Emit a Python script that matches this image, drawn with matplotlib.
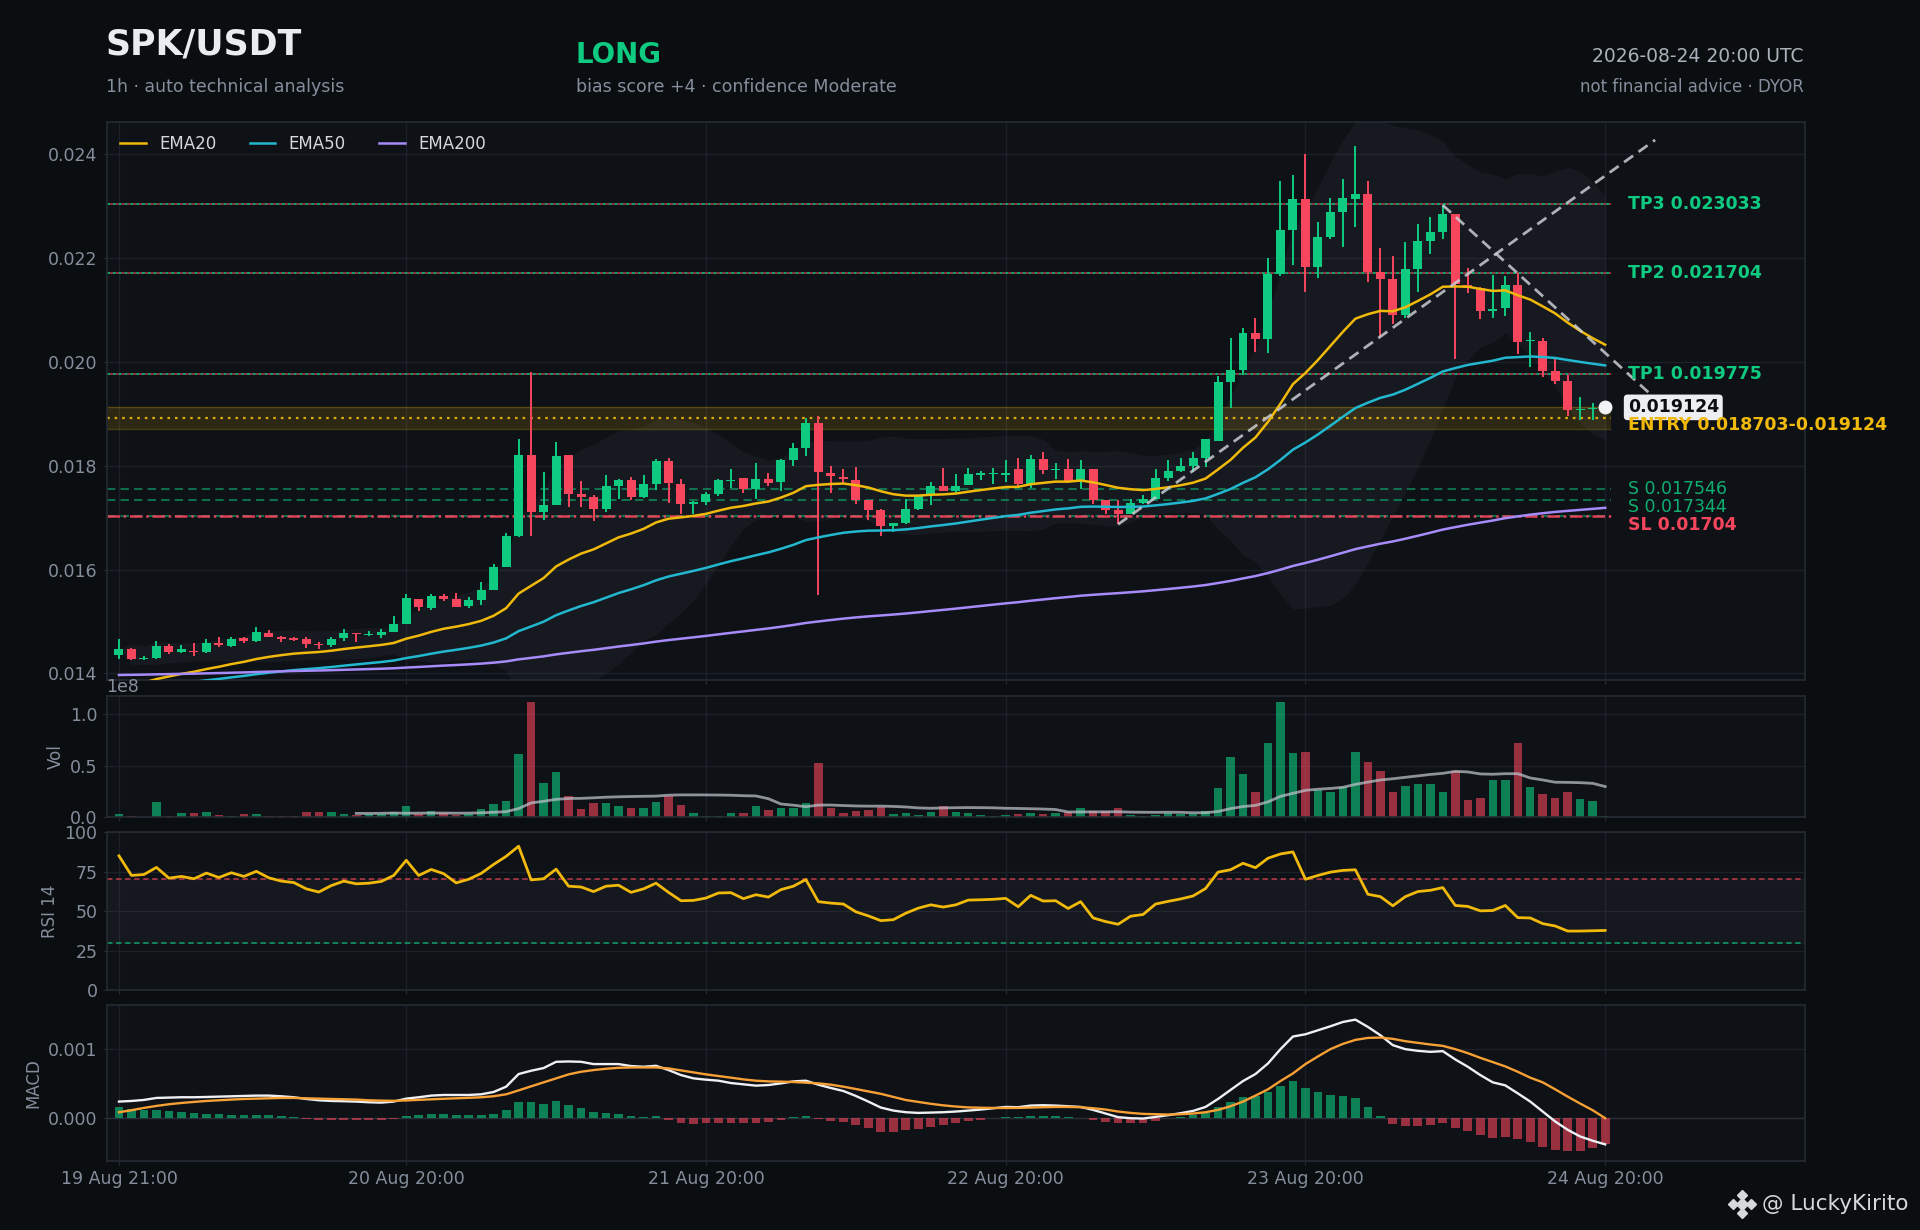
import numpy as np
import pandas as pd
import matplotlib
matplotlib.use("Agg")
import matplotlib.pyplot as plt
from matplotlib.lines import Line2D

# ---------------- data ----------------
symbol = "SPK/USDT"
timeframe_note = "1h · auto technical analysis"
bias_text = "LONG"
bias_note = "bias score +4 · confidence Moderate"
stamp = "2026-08-24 20:00 UTC"
disclaimer = "not financial advice · DYOR"
watermark = "@ LuckyKirito"

opens = [
    0.014353, 0.014469, 0.014270, 0.014300, 0.014527, 0.014417, 0.014437, 0.014417, 0.014590, 0.014527,
    0.014674, 0.014623, 0.014784, 0.014706, 0.014668, 0.014668, 0.014565, 0.014546, 0.014674, 0.014770,
    0.014739, 0.014739, 0.014803, 0.014957, 0.015439, 0.015260, 0.015490, 0.015426, 0.015298, 0.015413,
    0.015606, 0.016055, 0.016646, 0.018207, 0.017115, 0.017243, 0.018200, 0.017448, 0.017396, 0.017159,
    0.017608, 0.017717, 0.017390, 0.017640, 0.018083, 0.017653, 0.017255, 0.017300, 0.017448, 0.017700,
    0.017756, 0.017550, 0.017737, 0.017685, 0.018103, 0.018347, 0.018816, 0.017865, 0.017780, 0.017730,
    0.017332, 0.017139, 0.016837, 0.016902, 0.017172, 0.017428, 0.017615, 0.017512, 0.017622, 0.017830,
    0.017839, 0.017830, 0.017930, 0.017640, 0.018122, 0.017910, 0.017929, 0.017680, 0.017929, 0.017332,
    0.017139, 0.017062, 0.017287, 0.017364, 0.017762, 0.017891, 0.018000, 0.018141, 0.018481, 0.019603,
    0.019853, 0.020564, 0.020436, 0.021692, 0.022545, 0.023135, 0.021833, 0.022404, 0.022891, 0.023147,
    0.023237, 0.021737, 0.021590, 0.020904, 0.021782, 0.022333, 0.022506, 0.022846, 0.021481, 0.021417,
    0.020990, 0.021032, 0.021481, 0.020400, 0.020410, 0.019827, 0.019635, 0.019077, 0.019090, 0.019124]
highs = [
    0.014655, 0.014495, 0.014334, 0.014623, 0.014565, 0.014539, 0.014578, 0.014655, 0.014693, 0.014693,
    0.014706, 0.014893, 0.014835, 0.014726, 0.014700, 0.014700, 0.014610, 0.014694, 0.014854, 0.014777,
    0.014816, 0.014848, 0.015105, 0.015529, 0.015439, 0.015529, 0.015529, 0.015541, 0.015465, 0.015760,
    0.016107, 0.016697, 0.018509, 0.019805, 0.017879, 0.018457, 0.018200, 0.017698, 0.017428, 0.017814,
    0.017737, 0.017782, 0.017814, 0.018135, 0.018154, 0.017750, 0.017320, 0.017493, 0.017750, 0.017929,
    0.017769, 0.018045, 0.017865, 0.018122, 0.018443, 0.018925, 0.018963, 0.017987, 0.017929, 0.017968,
    0.017332, 0.017159, 0.016902, 0.017364, 0.017428, 0.017679, 0.017949, 0.017833, 0.017961, 0.017890,
    0.017949, 0.018103, 0.018141, 0.018199, 0.018257, 0.018058, 0.018122, 0.018103, 0.017942, 0.017332,
    0.017345, 0.017364, 0.017428, 0.017929, 0.018103, 0.018154, 0.018257, 0.018507, 0.019731, 0.020455,
    0.020660, 0.020853, 0.022006, 0.023481, 0.023596, 0.024000, 0.022699, 0.023160, 0.023526, 0.024160,
    0.023481, 0.022186, 0.022045, 0.022314, 0.022654, 0.022795, 0.023019, 0.022846, 0.021801, 0.021449,
    0.021673, 0.021660, 0.021705, 0.020584, 0.020455, 0.020071, 0.019750, 0.019327, 0.019205, 0.019124]
lows = [
    0.014276, 0.014257, 0.014260, 0.014283, 0.014373, 0.014385, 0.014334, 0.014400, 0.014507, 0.014507,
    0.014584, 0.014597, 0.014706, 0.014610, 0.014630, 0.014495, 0.014462, 0.014514, 0.014630, 0.014610,
    0.014720, 0.014687, 0.014803, 0.014957, 0.015208, 0.015220, 0.015400, 0.015285, 0.015266, 0.015324,
    0.015606, 0.016055, 0.016633, 0.016653, 0.016954, 0.017243, 0.017204, 0.017204, 0.016927, 0.017107,
    0.017351, 0.017345, 0.017377, 0.017525, 0.017281, 0.017075, 0.017062, 0.017236, 0.017410, 0.017576,
    0.017473, 0.017358, 0.017602, 0.017510, 0.017987, 0.018180, 0.015502, 0.017473, 0.017653, 0.017255,
    0.016947, 0.016638, 0.016722, 0.016869, 0.017139, 0.017236, 0.017512, 0.017460, 0.017622, 0.017717,
    0.017640, 0.017679, 0.017590, 0.017570, 0.017846, 0.017750, 0.017666, 0.017550, 0.017255, 0.017075,
    0.016870, 0.017062, 0.017268, 0.017364, 0.017705, 0.017878, 0.017878, 0.017974, 0.018481, 0.019109,
    0.019744, 0.020199, 0.020167, 0.021660, 0.021866, 0.021340, 0.021622, 0.022359, 0.022205, 0.022603,
    0.021545, 0.020487, 0.020724, 0.020840, 0.021340, 0.022070, 0.022359, 0.020064, 0.021321, 0.020821,
    0.020840, 0.020891, 0.020148, 0.019911, 0.019718, 0.019571, 0.018949, 0.018885, 0.018885, 0.019124]
closes = [
    0.014469, 0.014270, 0.014300, 0.014527, 0.014417, 0.014462, 0.014417, 0.014578, 0.014546, 0.014668,
    0.014630, 0.014796, 0.014706, 0.014668, 0.014649, 0.014565, 0.014546, 0.014668, 0.014777, 0.014760,
    0.014758, 0.014796, 0.014944, 0.015452, 0.015285, 0.015484, 0.015432, 0.015285, 0.015413, 0.015606,
    0.016042, 0.016646, 0.018207, 0.017115, 0.017243, 0.018188, 0.017448, 0.017396, 0.017159, 0.017602,
    0.017717, 0.017390, 0.017640, 0.018083, 0.017666, 0.017255, 0.017300, 0.017448, 0.017717, 0.017720,
    0.017550, 0.017737, 0.017666, 0.018103, 0.018347, 0.018816, 0.017878, 0.017800, 0.017743, 0.017332,
    0.017139, 0.016837, 0.016902, 0.017159, 0.017428, 0.017602, 0.017512, 0.017615, 0.017833, 0.017839,
    0.017850, 0.017846, 0.017640, 0.018122, 0.017910, 0.017929, 0.017679, 0.017929, 0.017345, 0.017139,
    0.017062, 0.017287, 0.017364, 0.017762, 0.017891, 0.017994, 0.018141, 0.018507, 0.019603, 0.019853,
    0.020564, 0.020436, 0.021692, 0.022545, 0.023135, 0.021833, 0.022404, 0.022891, 0.023160, 0.023237,
    0.021737, 0.021590, 0.020904, 0.021782, 0.022333, 0.022506, 0.022846, 0.021494, 0.021417, 0.020987,
    0.021010, 0.021481, 0.020391, 0.020410, 0.019827, 0.019635, 0.019077, 0.019090, 0.019120, 0.019124]
volumes_m = [
    3.3, 1.0, 0.3, 15.0, 1.3, 4.2, 4.2, 5.2, 2.3, 1.3,
    3.3, 3.3, 1.3, 1.3, 1.3, 5.2, 5.2, 5.2, 3.3, 2.3,
    3.3, 3.3, 5.2, 11.1, 3.3, 6.2, 4.2, 2.3, 3.3, 8.2,
    13.1, 16.0, 61.1, 112.1, 32.7, 43.5, 20.9, 8.2, 14.1, 14.1,
    11.1, 9.2, 9.2, 15.0, 20.9, 12.1, 4.2, 1.3, 1.3, 4.2,
    4.2, 11.1, 7.2, 9.2, 9.2, 14.1, 52.3, 9.2, 4.2, 6.2,
    7.2, 10.1, 3.3, 4.2, 2.3, 5.2, 11.1, 5.2, 4.2, 2.3,
    1.3, 2.3, 3.3, 4.2, 3.3, 4.2, 5.2, 9.2, 6.2, 6.2,
    9.2, 2.3, 1.3, 2.3, 4.2, 3.3, 3.3, 6.2, 27.8, 58.2,
    41.5, 24.8, 71.9, 112.1, 62.1, 63.1, 26.8, 23.9, 28.8, 63.1,
    53.3, 44.4, 24.8, 30.7, 31.7, 31.7, 24.8, 44.4, 17.0, 19.0,
    35.6, 35.6, 71.9, 28.8, 22.9, 19.0, 23.9, 18.0, 16.0, 0.5]
rsi14 = [
    84.9, 72.5, 73.1, 77.6, 70.8, 71.9, 70.4, 74.0, 71.2, 74.2,
    71.9, 75.1, 71.0, 68.9, 68.0, 64.0, 62.0, 66.1, 68.9, 67.2,
    67.6, 68.7, 72.5, 82.1, 72.5, 76.3, 73.6, 67.8, 70.1, 73.8,
    79.5, 84.6, 91.0, 69.7, 70.4, 76.5, 65.7, 65.2, 62.3, 65.7,
    66.3, 61.8, 64.0, 67.6, 61.8, 56.5, 56.7, 58.2, 61.4, 61.6,
    57.8, 60.3, 58.8, 63.5, 65.7, 69.9, 55.9, 55.0, 54.4, 49.5,
    46.9, 43.9, 44.5, 48.6, 51.8, 53.9, 52.5, 53.9, 56.9, 57.1,
    57.4, 58.0, 52.7, 59.9, 56.3, 56.5, 51.6, 55.9, 45.6, 43.3,
    41.6, 46.7, 47.8, 54.4, 56.1, 57.6, 59.5, 64.2, 74.6, 76.1,
    80.2, 77.4, 83.4, 86.1, 87.4, 70.1, 72.5, 74.6, 75.7, 76.1,
    60.6, 59.1, 53.3, 59.1, 62.3, 63.1, 64.8, 53.5, 52.9, 50.1,
    50.3, 53.5, 45.8, 45.6, 42.0, 40.5, 37.3, 37.3, 37.5, 37.7]
macd_line = [
    0.000237, 0.000246, 0.000261, 0.000290, 0.000295, 0.000300, 0.000300, 0.000304, 0.000309, 0.000314,
    0.000319, 0.000324, 0.000324, 0.000314, 0.000300, 0.000275, 0.000256, 0.000246, 0.000242, 0.000237,
    0.000227, 0.000222, 0.000237, 0.000280, 0.000300, 0.000324, 0.000333, 0.000333, 0.000333, 0.000343,
    0.000377, 0.000454, 0.000638, 0.000686, 0.000725, 0.000816, 0.000821, 0.000816, 0.000783, 0.000783,
    0.000783, 0.000754, 0.000744, 0.000758, 0.000696, 0.000623, 0.000575, 0.000556, 0.000541, 0.000507,
    0.000488, 0.000469, 0.000478, 0.000502, 0.000531, 0.000541, 0.000483, 0.000435, 0.000391, 0.000319,
    0.000237, 0.000150, 0.000106, 0.000082, 0.000072, 0.000077, 0.000082, 0.000092, 0.000106, 0.000121,
    0.000140, 0.000159, 0.000155, 0.000179, 0.000184, 0.000179, 0.000169, 0.000159, 0.000116, 0.000063,
    0.000010, -0.000005, -0.000010, 0.000014, 0.000039, 0.000068, 0.000101, 0.000159, 0.000275, 0.000406,
    0.000536, 0.000638, 0.000792, 0.001000, 0.001184, 0.001217, 0.001275, 0.001333, 0.001396, 0.001430,
    0.001324, 0.001203, 0.001058, 0.001000, 0.000976, 0.000961, 0.000971, 0.000850, 0.000744, 0.000623,
    0.000517, 0.000473, 0.000357, 0.000237, 0.000092, -0.000053, -0.000174, -0.000271, -0.000333, -0.000386]
macd_signal = [
    0.000082, 0.000111, 0.000145, 0.000174, 0.000198, 0.000217, 0.000232, 0.000246, 0.000256, 0.000266,
    0.000275, 0.000280, 0.000285, 0.000290, 0.000290, 0.000285, 0.000280, 0.000275, 0.000271, 0.000266,
    0.000256, 0.000251, 0.000248, 0.000254, 0.000262, 0.000270, 0.000278, 0.000285, 0.000292, 0.000300,
    0.000315, 0.000343, 0.000400, 0.000459, 0.000517, 0.000575, 0.000633, 0.000671, 0.000696, 0.000715,
    0.000729, 0.000734, 0.000734, 0.000734, 0.000720, 0.000691, 0.000662, 0.000633, 0.000609, 0.000585,
    0.000560, 0.000541, 0.000531, 0.000527, 0.000522, 0.000512, 0.000502, 0.000483, 0.000454, 0.000420,
    0.000385, 0.000350, 0.000305, 0.000260, 0.000232, 0.000205, 0.000182, 0.000165, 0.000152, 0.000147,
    0.000144, 0.000144, 0.000145, 0.000150, 0.000155, 0.000159, 0.000159, 0.000155, 0.000140, 0.000121,
    0.000092, 0.000072, 0.000058, 0.000053, 0.000048, 0.000053, 0.000063, 0.000082, 0.000116, 0.000169,
    0.000237, 0.000324, 0.000415, 0.000536, 0.000647, 0.000783, 0.000894, 0.001000, 0.001077, 0.001135,
    0.001164, 0.001169, 0.001150, 0.001116, 0.001092, 0.001068, 0.001048, 0.001000, 0.000942, 0.000874,
    0.000812, 0.000749, 0.000671, 0.000585, 0.000517, 0.000415, 0.000309, 0.000208, 0.000111, -0.000005]

tick_pos = [0, 23, 47, 71, 95, 119]
tick_labels = ["19 Aug 21:00", "20 Aug 20:00", "21 Aug 20:00",
               "22 Aug 20:00", "23 Aug 20:00", "24 Aug 20:00"]
price_ticks = [0.014, 0.016, 0.018, 0.020, 0.022, 0.024]

tp_names = ["TP3", "TP2", "TP1"]
tp_levels = [0.023033, 0.021704, 0.019775]
entry_low, entry_high = 0.018703, 0.019124
support_levels = [0.017546, 0.017344]
stop_loss = 0.01704
last_price = 0.019124

ema_spans = [20, 50, 200]
ema_seeds = [0.01364, 0.01365, 0.013963]      # EMA values just before the window
trend_up_idx = (80, 101)     # lows joined by rising line
trend_dn_idx = (106, 112)    # highs joined by falling line

# ---------------- style ----------------
BG = "#0b0e11"
AX_BG = "#0e1116"
GRID = "#1c2028"
SPINE = "#262b33"
TXT = "#848e9c"
GREEN = "#0ecb81"
RED = "#f6465d"
YEL = "#f0b90b"
CYAN = "#22b8cf"
PURP = "#a78bfa"

o = np.array(opens); h = np.array(highs); l = np.array(lows); c = np.array(closes)
vol = np.array(volumes_m) * 1e6
n = len(c)
x = np.arange(n)
up = c >= o
cols = np.where(up, GREEN, RED)

def ema(vals, span, seed):
    a = 2.0 / (span + 1)
    out, e = [], seed
    for v in vals:
        e = e + a * (v - e)
        out.append(e)
    return np.array(out)

emas = [ema(c, s, sd) for s, sd in zip(ema_spans, ema_seeds)]
cs = pd.Series(c)
bb_mid = cs.rolling(20, min_periods=1).mean()
bb_std = cs.rolling(20, min_periods=1).std(ddof=0).fillna(0)
bb_up = (bb_mid + 2 * bb_std).values
bb_lo = (bb_mid - 2 * bb_std).values
vol_ma = pd.Series(vol).rolling(20).mean().values
macd = np.array(macd_line); sig = np.array(macd_signal); hist = macd - sig

W, H = 1920, 1230
fig = plt.figure(figsize=(W / 100, H / 100), dpi=100, facecolor=BG)

def rect(left, top, right, bottom):
    return [left / W, 1 - bottom / H, (right - left) / W, (bottom - top) / H]

L, R = 106.5, 1805
ax = fig.add_axes(rect(L, 122, R, 680))
axv = fig.add_axes(rect(L, 696, R, 817), sharex=ax)
axr = fig.add_axes(rect(L, 832, R, 990), sharex=ax)
axm = fig.add_axes(rect(L, 1005, R, 1161), sharex=ax)

for a in (ax, axv, axr, axm):
    a.set_facecolor(AX_BG)
    for s in a.spines.values():
        s.set_color(SPINE)
        s.set_linewidth(1.2)
    a.grid(True, color=GRID, linewidth=1.0, zorder=0)
    a.set_axisbelow(True)
    a.tick_params(colors=TXT, labelsize=12.5, length=3, color=SPINE)
    a.set_xticks(tick_pos)
for a in (ax, axv, axr):
    plt.setp(a.get_xticklabels(), visible=False)
axm.set_xticklabels(tick_labels)
ax.set_xlim(-1, 135)

# ---- price panel ----
ax.fill_between(x, bb_lo, bb_up, color="#9aa4b4", alpha=0.06, linewidth=0, zorder=1)

xe = n - 0.5
# entry zone
ax.fill_between([-1, xe], entry_low, entry_high, color=YEL, alpha=0.14, linewidth=0, zorder=1.2)
ax.hlines([entry_low, entry_high], -1, xe, colors=YEL, alpha=0.25, linewidth=1.0, zorder=1.3)
ax.hlines((entry_low + entry_high) / 2, -1, xe, colors=YEL, linestyles=(0, (1.2, 2.2)), linewidth=1.6,
          alpha=0.9, zorder=1.4)
# targets
for lv in tp_levels:
    ax.hlines(lv, -1, xe, colors=GREEN, linestyles=(0, (1.5, 1.5)), linewidth=1.4, alpha=0.8, zorder=1.5)
    ax.hlines(lv, -1, xe, colors=RED, linestyles=(1.5, (1.5, 1.5)), linewidth=1.4, alpha=0.6, zorder=1.5)
# supports and stop
for lv in support_levels + [stop_loss]:
    ax.hlines(lv, -1, xe, colors=GREEN, linestyles=(0, (4, 2.5)), linewidth=1.5, alpha=0.5, zorder=1.5)
ax.hlines(stop_loss, -1, xe, colors=RED, linestyles=(0, (5, 1.5, 1, 1.5)), linewidth=1.8, alpha=0.9,
          zorder=1.6)

# candles
ax.vlines(x, l, h, colors=cols, linewidth=1.4, zorder=3)
body_lo = np.minimum(o, c)
body_h = np.maximum(np.abs(c - o), 2.2e-5)
ax.bar(x, body_h, bottom=body_lo, width=0.72, color=cols, linewidth=0, zorder=3.2)

# EMAs
for e, col, lab in zip(emas, [YEL, CYAN, PURP], ["EMA20", "EMA50", "EMA200"]):
    ax.plot(x, e, color=col, linewidth=1.8, label=lab, zorder=4)

# trend lines
x_end = n + 3
i1, i2 = trend_up_idx
sl = (l[i2] - l[i1]) / (i2 - i1)
ax.plot([i1, x_end], [l[i1], l[i1] + sl * (x_end - i1)], color="#c9cdd3", alpha=0.85,
        linewidth=2.0, linestyle=(0, (4, 2.4)), zorder=4.5)
j1, j2 = trend_dn_idx
sh = (h[j2] - h[j1]) / (j2 - j1)
ax.plot([j1, x_end], [h[j1], h[j1] + sh * (x_end - j1)], color="#c9cdd3", alpha=0.85,
        linewidth=2.0, linestyle=(0, (4, 2.4)), zorder=4.5)

# last price marker
ax.plot([n - 1], [last_price], "o", color="#f2f3f5", markersize=9, zorder=6)

ax.set_ylim(0.013871, 0.024622)
ax.set_yticks(price_ticks)
ax.set_yticklabels([f"{t:.3f}" for t in price_ticks])

leg = ax.legend(loc="upper left", ncol=3, frameon=False, fontsize=12, handlelength=1.55,
                handletextpad=0.8, columnspacing=2.0, borderaxespad=0.4, labelcolor="#d5d9de")

# level labels with simple de-overlap
lab_x = n + 0.8
labels = []
for nm, lv in zip(tp_names, tp_levels):
    labels.append((lv, f"{nm} {lv:.6f}".rstrip("0"), GREEN, "bold", None))
labels.append((last_price, f"{last_price:.6f}", "#0b0e11", "bold", "box"))
labels.append(((entry_low + entry_high) / 2, f"ENTRY {entry_low:.6f}-{entry_high:.6f}", YEL, "bold", None))
for lv in support_levels:
    labels.append((lv, f"S {lv:.6f}", GREEN, "normal", None))
labels.append((stop_loss, f"SL {stop_loss:.5f}", RED, "bold", None))
labels.sort(key=lambda t: -t[0])
gap = 0.00034
prev = None
for lv, txt, col, wt, kind in labels:
    y = lv if prev is None else min(lv, prev - gap)
    prev = y
    kw = dict(color=col, fontsize=12.5, fontweight=wt, va="center", ha="left", zorder=7)
    if kind == "box":
        kw["bbox"] = dict(boxstyle="round,pad=0.22", fc="#eceef1", ec="none")
    if wt == "normal":
        kw["alpha"] = 0.85
    ax.text(lab_x, y, txt, **kw)

# ---- volume ----
axv.bar(x, vol, width=0.68, color=cols, alpha=0.6, linewidth=0, zorder=2)
axv.plot(x, vol_ma, color="#b9bec6", alpha=0.75, linewidth=2.0, zorder=3)
axv.set_ylim(0, 1.18e8)
axv.set_yticks([0, 0.5e8, 1.0e8])
axv.set_ylabel("Vol", color=TXT, fontsize=12)
axv.yaxis.get_offset_text().set_fontsize(12.5)
axv.yaxis.get_offset_text().set_color(TXT)

# ---- RSI ----
axr.axhspan(30, 70, color="#9aa4b4", alpha=0.05, zorder=1)
axr.axhline(70, color=RED, linestyle=(0, (3, 2)), linewidth=1.3, alpha=0.65, zorder=2)
axr.axhline(30, color=GREEN, linestyle=(0, (3, 2)), linewidth=1.3, alpha=0.65, zorder=2)
axr.plot(x, rsi14, color=YEL, linewidth=2.0, zorder=3)
axr.set_ylim(0, 100)
axr.set_yticks([0, 25, 50, 75, 100])
axr.set_ylabel("RSI 14", color=TXT, fontsize=12)

# ---- MACD ----
hcols = np.where(hist >= 0, GREEN, RED)
axm.bar(x, hist, width=0.7, color=hcols, alpha=0.6, linewidth=0, zorder=2)
axm.axhline(0, color="#2a2f37", linewidth=1.0, zorder=1.5)
axm.plot(x, macd, color="#eef0f3", linewidth=1.7, zorder=3)
axm.plot(x, sig, color="#f7a035", linewidth=1.7, zorder=3)
axm.set_ylim(-0.000628, 0.001643)
axm.set_yticks([0.0, 0.001])
axm.set_yticklabels(["0.000", "0.001"])
axm.set_ylabel("MACD", color=TXT, fontsize=12)

# ---- header ----
fig.text(106 / W, 1 - 44 / H, symbol, color="#eaecef", fontsize=25, fontweight="bold", va="center")
fig.text(106 / W, 1 - 87 / H, timeframe_note, color=TXT, fontsize=12.5, va="center")
fig.text(576 / W, 1 - 55 / H, bias_text, color=GREEN, fontsize=20, fontweight="bold", va="center")
fig.text(576 / W, 1 - 87 / H, bias_note, color=TXT, fontsize=12.5, va="center")
fig.text(1804 / W, 1 - 57 / H, stamp, color="#aab1ba", fontsize=13.5, va="center", ha="right")
fig.text(1804 / W, 1 - 87 / H, disclaimer, color=TXT, fontsize=12, va="center", ha="right")

# watermark
fig.text(1762 / W, 1 - 1204 / H, watermark, color="#d6d8db", fontsize=15.5, va="center", ha="left")
lx, ly = 1742 / W, 1 - 1204 / H
for dx, dy, ms in [(0, 0, 6), (0, 9, 5), (0, -9, 5), (-9, 0, 5), (9, 0, 5)]:
    fig.add_artist(Line2D([lx + dx / W], [ly + dy / H], marker="D", markersize=ms, color="#d6d8db",
                          linestyle="none", transform=fig.transFigure))

fig.savefig("out.png", dpi=100, facecolor=BG)
